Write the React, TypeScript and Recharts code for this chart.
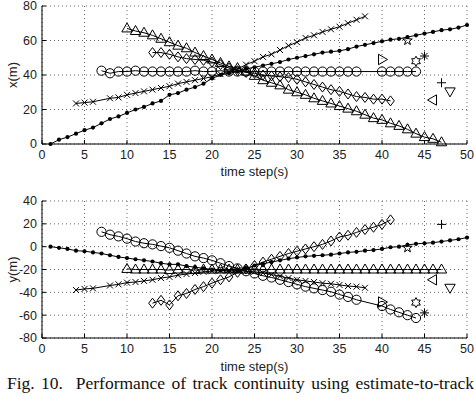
import React from "react";
import { CartesianGrid, Scatter, ScatterChart, XAxis, YAxis } from "recharts";

// time steps 1..50 shared by every track
const timeSteps = [
  1, 2, 3, 4, 5, 6, 7, 8, 9, 10, 11, 12, 13, 14, 15, 16, 17, 18, 19, 20,
  21, 22, 23, 24, 25, 26, 27, 28, 29, 30, 31, 32, 33, 34, 35, 36, 37, 38, 39, 40,
  41, 42, 43, 44, 45, 46, 47, 48, 49, 50
];
const xTicks = [0, 5, 10, 15, 20, 25, 30, 35, 40, 45, 50];
const topTicks = [0, 20, 40, 60, 80];
const bottomTicks = [-80, -60, -40, -20, 0, 20, 40];

const N = null;

// x(m)
const topDots = [
  0, 2.5, 4, 6, 8, 9.5, 12, 14.5, 16, 18,
  20, 21.5, 23.5, 25, 28.5, 29.5, 31.5, 33, 35, 38,
  40, 41, 42, 43.5, 44.5, 45.5, 46.5, 47.5, 49, 50,
  51, 52, 53, 53.5, 54, 55, 56.5, 57.5, 58.5, 59.5,
  60.5, 61, 62, 63, 64, 65, 66, 66.5, 67.5, 69
];
const topCross = [
  N, N, N, 23.5, 24, 24.5, N, 26.5, 27, 28.5,
  29.5, 30.5, 31.5, 32.5, 33.5, 35, 36, 37, 38, 39,
  40.5, 42, 43.5, 46, 48, 50.5, 52, 54.5, 57, 59,
  61.5, 63, 65, 66.5, 68, 70, 72, 74, N, N,
  N, N, N, N, N, N, N, N, N, N
];
const topCircle = [
  N, N, N, N, N, N, 42.5, 41, 42, 42,
  42.5, 42, 42, 42, 42, 42, 42, 42.5, 42, 42,
  42.5, 42, 42, 42, 42, 42, 42, 42, 42, 42,
  42, 42, 42, 42, 42, 42, 42, N, N, 42,
  42, 42, 42, 42, N, N, N, N, N, N
];
const topTriangle = [
  N, N, N, N, N, N, N, N, N, 67,
  65.5, 64.5, 63, 61, 59, 57, 55.5, 53, 51, 49,
  47, 45, 44, 42, 39.5, 37, 35.5, 34, 31.5, 30,
  28.5, 26.5, 25, 23.5, 22, 20.5, 19, 17, 15, 14,
  12, 10.5, 8.5, 6, 4, 3, 1, N, N, N
];
const topDiamond = [
  N, N, N, N, N, N, N, N, N, N,
  N, N, 53, 53, 52, 50.5, 49.5, 49, 48.5, 47.5,
  46, 44, 42.5, 41.5, 41, 40, 39.5, 39, 38.5, 37.5,
  36, 34.5, 33, 31.5, 30.5, 29, 27.5, 27, 26, 26,
  25, N, N, N, N, N, N, N, N, N
];

// y(m)
const bottomDots = [
  0, -1, -2, -3.5, -4, -5, -6, -7.5, -9, -10,
  -11, -12, -13, -14.5, -15.5, -15.5, -17, -18, -19, -20,
  -21, -21.5, -21, -19, -16.5, -15, -13.5, -12, -10.5, -9.5,
  -8.5, -8, -7.5, -7, -6, -5, -4.5, -3.5, -3, -2,
  -0.5, 0, 1.5, 2.5, 3, 3.5, 4.5, 5.5, 6.5, 8
];
const bottomCross = [
  N, N, N, -38, -37, -36.5, N, -34, -33, -31.5,
  -31, -30, -29, -27.5, -26.5, -25, -24, -23, -22, -21.5,
  -21, -20.5, -20.5, -21.5, -22, -23, -24.5, -26, -27.5, -29,
  -30, -31, -32, -32.5, -33.5, -34.5, -35, -36, N, N,
  N, N, N, N, N, N, N, N, N, N
];
const bottomCircle = [
  N, N, N, N, N, N, 13, 10.5, 9, 7,
  4.5, 3, 2, 0.5, -1, -3.5, -6, -8.5, -10, -12,
  -14.5, -17, -19, -21.5, -23.5, -25.5, -27, -29, -31, -33,
  -35, -36.5, -38, -39.5, -42, -44, -46.5, N, N, -52,
  -55, -57.5, -60, -62.5, N, N, N, N, N, N
];
const bottomTriangle = [
  N, N, N, N, N, N, N, N, N, -19.5,
  -20, -20, -20, -20, -20.5, -20, -20, -20.5, -20, -20,
  -20, -20, -20, -20, -20, -20, -20, -20, -20, -20,
  -20, -20, -20, -20, -20, -20, -20, -20, -20, -20,
  -20, -20, -20, -20, -20, -20, -20, N, N, N
];
const bottomDiamond = [
  N, N, N, N, N, N, N, N, N, N,
  N, N, -49.5, -47, -51, -43, -41, -37.5, -35, -32,
  -29, -26.5, -22.5, -19.5, -16.5, -13.5, -11, -8.5, -6, -4,
  -2, 0, 2, 5, 8.5, 10, 12.5, 15, 17, 19.5,
  23.5, N, N, N, N, N, N, N, N, N
];

// lone detections near the end
const singleSteps = [40, 43, 44, 45, 46, 47, 48];
const topSingles = [49, 60, 48, 51, 25.5, 35.5, 30.5];
const bottomSingles = [-48.5, -1, -49, -58, -29, 19.5, -36];

const trackMarkers = ["dot", "cross", "circle", "triUp", "diamond"];
const singleMarkers = ["triRight", "pentagram", "hexagram", "asterisk", "triLeft", "plus", "triDown"];

const ink = { stroke: "#000", strokeWidth: 1, fill: "none" };

function starPoints(n: number, outer: number, inner: number) {
  const pts: string[] = [];
  for (let i = 0; i < n * 2; i++) {
    const r = i % 2 === 0 ? outer : inner;
    const a = -Math.PI / 2 + (i * Math.PI) / n;
    pts.push(`${(r * Math.cos(a)).toFixed(2)},${(r * Math.sin(a)).toFixed(2)}`);
  }
  return pts.join(" ");
}

function glyph(kind: string) {
  switch (kind) {
    case "dot":
      return <circle r={2.1} fill="#000" />;
    case "circle":
      return <circle r={4.6} {...ink} />;
    case "cross":
      return <path d="M-3,-3L3,3M-3,3L3,-3" {...ink} />;
    case "plus":
      return <path d="M-4.5,0H4.5M0,-4.5V4.5" {...ink} />;
    case "asterisk":
      return <path d="M-4.5,0H4.5M0,-4.5V4.5M-3.2,-3.2L3.2,3.2M-3.2,3.2L3.2,-3.2" {...ink} />;
    case "triUp":
      return <polygon points="0,-5.5 5.2,3.5 -5.2,3.5" {...ink} />;
    case "triDown":
      return <polygon points="0,5.5 5.2,-3.5 -5.2,-3.5" {...ink} />;
    case "triLeft":
      return <polygon points="-5.5,0 3.5,-5.2 3.5,5.2" {...ink} />;
    case "triRight":
      return <polygon points="5.5,0 -3.5,-5.2 -3.5,5.2" {...ink} />;
    case "diamond":
      return <polygon points="0,-5 3.8,0 0,5 -3.8,0" {...ink} />;
    case "pentagram":
      return <polygon points={starPoints(5, 5, 2)} {...ink} />;
    case "hexagram":
      return <polygon points={starPoints(6, 5, 2.9)} {...ink} />;
    default:
      return null;
  }
}

function markerShape(kind: string) {
  return (props: any) => {
    const { cx, cy } = props;
    if (cx == null || cy == null) return <g />;
    return <g transform={`translate(${cx},${cy})`}>{glyph(kind)}</g>;
  };
}

const toPoints = (values: (number | null)[]) =>
  timeSteps
    .map((t, i) => ({ t, v: values[i] }))
    .filter((p) => p.v !== null);

const tickStyle = { fill: "#222", fontSize: 12.5, fontFamily: "Liberation Sans, Arial, sans-serif" };
const labelStyle = { fill: "#222", fontSize: 13, fontFamily: "Liberation Sans, Arial, sans-serif" };

function Panel({
  tracks,
  singles,
  domain,
  ticks,
  yLabel,
  top,
  marginBottom,
  labelOffset
}: {
  tracks: (number | null)[][];
  singles: number[];
  domain: [number, number];
  ticks: number[];
  yLabel: string;
  top: number;
  marginBottom: number;
  labelOffset: number;
}) {
  return (
    <div style={{ position: "absolute", left: 0, top }}>
      <ScatterChart width={474} height={185} margin={{ top: 6, right: 7, bottom: marginBottom, left: 0 }}>
        <CartesianGrid stroke="#666" strokeDasharray="1 3" />
        <XAxis
          type="number"
          dataKey="t"
          domain={[0, 50]}
          ticks={xTicks}
          interval={0}
          height={35}
          stroke="#000"
          tick={tickStyle}
          tickSize={-4}
          tickMargin={10}
          label={{ value: "time step(s)", position: "insideBottom", offset: labelOffset, style: labelStyle }}
        />
        <YAxis
          type="number"
          dataKey="v"
          domain={domain}
          ticks={ticks}
          interval={0}
          width={42}
          stroke="#000"
          tick={tickStyle}
          tickSize={-4}
          tickMargin={9}
          label={{
            value: yLabel,
            angle: -90,
            position: "insideLeft",
            offset: 12,
            style: { ...labelStyle, textAnchor: "middle" }
          }}
        />
        {tracks.map((values, i) => (
          <Scatter
            key={trackMarkers[i]}
            data={toPoints(values)}
            line={{ stroke: "#000", strokeWidth: 1 }}
            lineType="joint"
            shape={markerShape(trackMarkers[i])}
            isAnimationActive={false}
            legendType="none"
          />
        ))}
        {singles.map((v, i) => (
          <Scatter
            key={singleMarkers[i]}
            data={[{ t: singleSteps[i], v }]}
            shape={markerShape(singleMarkers[i])}
            isAnimationActive={false}
            legendType="none"
          />
        ))}
      </ScatterChart>
    </div>
  );
}

export default function App() {
  return (
    <div
      style={{
        position: "absolute",
        left: 0,
        top: 0,
        width: 474,
        height: 399,
        overflow: "hidden",
        background: "#fff"
      }}
    >
      <Panel
        tracks={[topDots, topCross, topCircle, topTriangle, topDiamond]}
        singles={topSingles}
        domain={[0, 80]}
        ticks={topTicks}
        yLabel="x(m)"
        top={0}
        marginBottom={6}
        labelOffset={3}
      />
      <Panel
        tracks={[bottomDots, bottomCross, bottomCircle, bottomTriangle, bottomDiamond]}
        singles={bottomSingles}
        domain={[-80, 40]}
        ticks={bottomTicks}
        yLabel="y(m)"
        top={195}
        marginBottom={7}
        labelOffset={2}
      />
      <div
        style={{
          position: "absolute",
          left: 7,
          top: 375,
          whiteSpace: "nowrap",
          fontFamily: "Liberation Serif, Times New Roman, serif",
          fontSize: 17.5,
          lineHeight: "17px",
          wordSpacing: 2,
          color: "#111"
        }}
      >
        Fig. 10.&nbsp;&nbsp;Performance of track continuity using estimate-to-track
      </div>
    </div>
  );
}
